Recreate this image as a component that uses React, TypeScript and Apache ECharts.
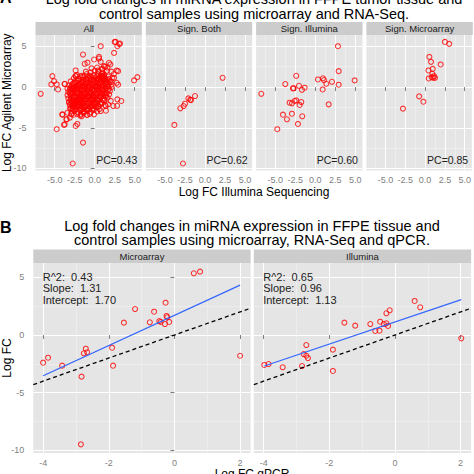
import { useEffect, useRef } from "react";
import * as echarts from "echarts";

const FONT = '"Liberation Sans", Arial, Helvetica, sans-serif';

type Pt = [number, number];

// ---------- Panel A: log fold changes, Illumina sequencing (x) vs Agilent microarray (y)
const titleA = [
  "Log fold changes in miRNA expression in FFPE tumor tissue and",
  "control samples using microarray and RNA-Seq.",
];
const facetsA = ["All", "Sign. Both", "Sign. Illumina", "Sign. Microarray"];
const pearsonA = ["0.43", "0.62", "0.60", "0.85"];

const aXRange: Pt = [-7.4, 5.9];
const aYRange: Pt = [-10.25, 6.4];
const aXTicks = [-5, -2.5, 0, 2.5, 5];
const aXMinor = [-6.25, -3.75, -1.25, 1.25, 3.75];
const aYTicks = [-10, -5, 0, 5];
const aYMinor = [-7.5, -2.5, 2.5];

const signBoth: Pt[] = [
  [2.2, 1.14], [-1.25, -1.1], [-1.75, -1.6], [-2.08, -1.39], [-1.85, -1.55],
  [-2.5, -2.04], [-2.67, -2.33], [-3.08, -2.61], [-3.83, -4.65], [-2.75, -9.39],
];

const signIllumina: Pt[] = [
  [2.83, 5.02], [2.92, 1.96], [4.92, 0.82], [0.33, 0.94], [0.96, 1.08], [1.08, 0.86],
  [2.08, 0.65], [2.92, 0.29], [1.38, 0.41], [0.92, -0.29], [1.67, -2.12], [-2.38, 1.39],
  [-3.75, 0.37], [-2.79, -0.16], [-2.71, -0.14], [-2.04, 0.16], [-1.33, -0.08], [-1.67, -0.33],
  [-6.75, -0.82], [-3.21, -1.92], [-2.92, -2.0], [-2.58, -1.71], [-2.38, -1.63], [-1.75, -1.84],
  [-1.96, -2.2], [-4.04, -3.39], [-3.54, -3.96], [-2.92, -3.27], [-1.63, -3.59], [-2.17, -4.53],
  [-4.75, -5.18],
];

const signMicroarray: Pt[] = [
  [2.5, 5.55], [3.04, 5.31], [0.54, 3.71], [0.75, 3.1], [1.96, 2.78], [0.96, 2.24],
  [0.42, 2.04], [0.92, 1.63], [1.13, 1.35], [1.04, 1.14], [1.25, 1.14], [0.46, 1.06],
  [0.83, 1.22], [-0.75, -1.14], [-0.21, -1.8], [-2.79, -2.65],
];

// miRNAs not significant on either platform
const notSignificant: Pt[] = [
  [-5.29, 1.35], [-5.08, 0.73], [-5.42, 0.33], [-4.75, 0.33], [-4.58, -0.29], [-3.75, 0.41],
  [-1.46, 4.0], [-1.25, 2.86], [0.75, 5.02], [2.62, 5.55], [3.17, 5.35], [2.42, 4.2],
  [1.79, 2.98], [2.75, 2.04], [-0.08, 3.39], [0.54, 3.51], [1.17, 2.57], [-2.38, 2.04],
  [-2.38, 1.35], [5.33, 1.22], [2.42, 1.14], [2.75, 0.53], [2.83, -1.51], [2.33, -2.33],
  [3.33, -1.71], [-0.08, -3.35], [-0.92, -3.43], [0.75, -2.94], [1.38, -2.33], [-4.04, -3.35],
  [-3.5, -3.96], [-3.75, -4.57], [-2.38, -4.78], [-2.92, -3.35], [-1.46, -6.82], [-0.9, 3.0],
  [1.6, 2.4], [2.1, 1.9], [2.4, 1.6], [2.0, -1.7], [1.4, -2.9], [2.8, -2.3],
  [-3.4, -3.15], [-3.1, -3.75], [-1.75, -3.35], [-1.33, -3.0],
  [-0.4, 2.3], [0.3, 2.4], [0.9, 2.2], [1.3, 2.5],
  [-1.1, 1.9], [-0.5, 1.8], [0.0, 2.0], [0.5, 1.9], [1.0, 1.8], [1.5, 2.0],
  [-2.2, 1.5], [-1.6, 1.4], [-1.0, 1.6], [-0.6, 1.4], [-0.1, 1.5], [0.4, 1.6], [0.8, 1.4], [1.2, 1.5], [1.7, 1.3],
  [-1.8, 1.3], [-1.3, 1.35], [-0.85, 1.3], [-0.4, 1.25], [0.3, 1.35], [0.7, 1.25], [1.0, 1.35],
  [-2.6, 1.1], [-2.0, 1.0], [-1.5, 1.2], [-1.1, 1.0], [-0.7, 1.1], [-0.3, 0.9], [0.1, 1.2], [0.5, 1.0],
  [0.9, 1.1], [1.3, 0.9], [1.8, 1.0],
  [-2.3, 0.9], [-1.9, 0.95], [-1.45, 0.9], [-0.95, 0.85], [-0.5, 1.0], [-0.1, 0.85], [0.35, 0.95],
  [0.75, 0.85], [1.15, 0.95], [1.55, 0.9],
  [-3.0, 0.7], [-2.5, 0.6], [-2.1, 0.8], [-1.7, 0.6], [-1.3, 0.7], [-0.9, 0.5], [-0.5, 0.8], [-0.1, 0.6],
  [0.3, 0.7], [0.7, 0.5], [1.1, 0.8], [1.5, 0.6], [1.9, 0.7],
  [-2.7, 0.45], [-2.3, 0.5], [-1.85, 0.45], [-1.45, 0.5], [-1.05, 0.6], [-0.6, 0.5], [-0.2, 0.45],
  [0.2, 0.5], [0.6, 0.55], [1.0, 0.45], [1.4, 0.5], [1.75, 0.45],
  [-3.2, 0.2], [-2.8, 0.3], [-2.3, 0.1], [-1.9, 0.3], [-1.5, 0.2], [-1.1, 0.4], [-0.7, 0.2], [-0.3, 0.3],
  [0.1, 0.1], [0.5, 0.3], [0.9, 0.2], [1.3, 0.4], [1.7, 0.1], [2.1, 0.3],
  [-2.9, 0.1], [-2.45, 0.05], [-2.05, 0.1], [-1.65, 0.05], [-1.2, 0.15], [-0.85, 0.05], [-0.4, 0.1],
  [0.0, 0.15], [0.4, 0.1], [0.8, 0.05], [1.2, 0.15], [1.55, 0.1],
  [-3.4, -0.2], [-3.0, -0.1], [-2.6, 0.0], [-2.2, -0.2], [-1.8, -0.1], [-1.4, -0.3], [-1.0, 0.0], [-0.6, -0.1],
  [-0.2, -0.2], [0.2, 0.0], [0.6, -0.1], [1.0, -0.3], [1.4, -0.1], [1.8, -0.2], [2.1, 0.0],
  [-3.1, -0.3], [-2.7, -0.25], [-2.3, -0.35], [-1.95, -0.3], [-1.55, -0.35], [-1.15, -0.25], [-0.75, -0.3],
  [-0.35, -0.35], [0.05, -0.3], [0.45, -0.25], [0.85, -0.35], [1.25, -0.3], [1.65, -0.35],
  [-3.3, -0.6], [-2.9, -0.5], [-2.5, -0.4], [-2.1, -0.6], [-1.7, -0.5], [-1.3, -0.7], [-0.9, -0.4], [-0.5, -0.6],
  [-0.1, -0.5], [0.3, -0.4], [0.7, -0.6], [1.1, -0.5], [1.5, -0.7], [1.9, -0.5],
  [-3.1, -0.75], [-2.75, -0.8], [-2.35, -0.7], [-1.95, -0.75], [-1.55, -0.8], [-1.15, -0.75], [-0.75, -0.7],
  [-0.35, -0.8], [0.05, -0.75], [0.45, -0.7], [0.85, -0.8], [1.25, -0.75],
  [-3.4, -1.0], [-3.0, -0.9], [-2.6, -1.1], [-2.2, -0.8], [-1.8, -1.0], [-1.4, -0.9], [-1.0, -1.1], [-0.6, -0.8],
  [-0.2, -1.0], [0.2, -0.9], [0.6, -1.1], [1.0, -0.8], [1.4, -1.0], [1.8, -0.9],
  [-3.0, -1.15], [-2.6, -1.2], [-2.2, -1.1], [-1.8, -1.2], [-1.4, -1.15], [-1.0, -1.25], [-0.6, -1.1],
  [-0.2, -1.2], [0.2, -1.15], [0.6, -1.2], [1.0, -1.1], [1.4, -1.2],
  [-3.3, -1.4], [-2.8, -1.3], [-2.4, -1.2], [-2.0, -1.4], [-1.6, -1.3], [-1.2, -1.5], [-0.8, -1.2], [-0.4, -1.4],
  [0.0, -1.3], [0.4, -1.5], [0.8, -1.2], [1.2, -1.4], [1.6, -1.3],
  [-3.0, -1.55], [-2.6, -1.5], [-2.2, -1.6], [-1.8, -1.5], [-1.4, -1.55], [-1.0, -1.45], [-0.6, -1.6],
  [-0.2, -1.5], [0.2, -1.55], [0.6, -1.5], [1.0, -1.6],
  [-3.2, -1.8], [-2.8, -1.7], [-2.4, -1.9], [-2.0, -1.6], [-1.6, -1.8], [-1.2, -1.7], [-0.8, -1.9], [-0.4, -1.6],
  [0.0, -1.8], [0.4, -1.7], [0.8, -1.9], [1.2, -1.6],
  [-2.9, -1.95], [-2.5, -2.0], [-2.1, -1.9], [-1.7, -2.0], [-1.3, -1.95], [-0.9, -2.05], [-0.5, -1.9],
  [-0.1, -2.0], [0.3, -1.95], [0.7, -2.05],
  [-3.1, -2.2], [-2.7, -2.1], [-2.3, -2.0], [-1.9, -2.2], [-1.5, -2.1], [-1.1, -2.3], [-0.7, -2.0], [-0.3, -2.2],
  [0.1, -2.1], [0.5, -2.3], [0.9, -2.0], [1.3, -2.2],
  [-2.8, -2.35], [-2.4, -2.3], [-2.0, -2.4], [-1.6, -2.35], [-1.2, -2.45], [-0.8, -2.3], [-0.4, -2.4],
  [0.0, -2.35], [0.4, -2.4],
  [-3.0, -2.6], [-2.6, -2.5], [-2.2, -2.4], [-1.8, -2.6], [-1.4, -2.5], [-1.0, -2.7], [-0.6, -2.4], [-0.2, -2.6],
  [0.2, -2.5], [0.6, -2.7],
  [-2.7, -2.75], [-2.3, -2.7], [-1.9, -2.8], [-1.5, -2.7], [-1.1, -2.8], [-0.7, -2.7], [-0.3, -2.75],
  [-2.9, -3.0], [-2.5, -2.9], [-2.1, -3.1], [-1.7, -2.8], [-1.3, -3.0], [-0.9, -2.9], [-0.5, -3.1], [-0.1, -2.8],
  [0.3, -3.0],
  [-2.6, -3.4], [-2.2, -3.3], [-1.8, -3.5], [-1.4, -3.2], [-1.0, -3.4], [-0.6, -3.3],
];

const allMirnas: Pt[] = [...notSignificant, ...signBoth, ...signIllumina, ...signMicroarray];
const facetDataA: Pt[][] = [allMirnas, signBoth, signIllumina, signMicroarray];

// ---------- Panel B: platform log FC against qPCR
const titleB = [
  "Log fold changes in miRNA expression in FFPE tissue and",
  "control samples using microarray, RNA-Seq and qPCR.",
];
const facetsB = ["Microarray", "Illumina"];

const bXRange: Pt = [-4.3, 2.32];
const bYRange: Pt = [-10.23, 6.24];
const bXTicks = [-4, -2, 0, 2];
const bXMinor = [-3, -1, 1];
const bYTicks = [-10, -5, 0, 5];
const bYMinor = [-7.5, -2.5, 2.5];

const microarrayVsQpcr: Pt[] = [
  [0.59, 5.35], [0.78, 5.49], [-1.2, 2.25], [-1.54, 1.07], [-0.62, 2.02], [-0.27, 2.8],
  [-0.75, 1.1], [-0.46, 1.21], [-0.42, 1.13], [-0.24, 1.65], [-0.22, 1.53], [-0.16, 1.13],
  [-0.29, 0.95], [-1.9, -1.1], [-2.7, -1.19], [-2.66, -1.5], [-2.76, -1.59], [-3.85, -1.97],
  [-4.0, -2.4], [-3.42, -2.66], [-2.83, -3.61], [-1.87, -2.66], [-2.85, -9.48], [2.0, -1.8],
];
const illuminaVsQpcr: Pt[] = [
  [0.6, 2.95], [0.77, 2.4], [-0.16, 2.14], [-0.26, 1.88], [-1.54, 1.07], [-1.21, 0.81],
  [-0.75, 0.95], [-0.45, 1.15], [-0.34, 0.95], [-0.26, 1.01], [-0.21, 0.78], [-0.6, 0.35],
  [-0.47, 0.37], [-2.7, -0.87], [-1.89, -1.27], [2.02, -0.29], [-2.78, -1.65], [-2.7, -1.8],
  [-2.65, -2.0], [-3.98, -2.6], [-3.85, -2.52], [-3.42, -2.8], [-2.83, -2.69], [-1.89, -3.12],
];
const facetDataB: Pt[][] = [microarrayVsQpcr, illuminaVsQpcr];

const fitR2 = ["0.43", "0.65"];
const fitSlope = [1.31, 0.96];
const fitIntercept = [1.7, 1.13];

// ---------- layout (pixels)
const A_LEFT = 35.5, A_STEP = 110.3, A_W = 106.4, A_TOP = 35, A_H = 135.5;
const B_LEFTS = [33.3, 253.8], B_W = 217.3, B_TOP = 263, B_H = 190;

const PANEL_BG = "#e5e5e5";
const STRIP_BG = "#cccccc";
const TICK_GREY = "#7f7f7f";

function text(x: number, y: number, s: string, size: number, extra: any = {}) {
  return {
    type: "text",
    x,
    y,
    z: 100,
    silent: true,
    rotation: extra.rotation ?? 0,
    style: {
      text: s,
      fontSize: size,
      fontFamily: FONT,
      fontWeight: extra.weight ?? "normal",
      fill: extra.fill ?? "#000",
      align: extra.align ?? "center",
      verticalAlign: "middle",
    },
  };
}

function majorAxis(grid: number, range: Pt, ticks: number[], showTicks: boolean, fmt: (v: number) => string, margin: number) {
  return {
    type: "value",
    gridIndex: grid,
    min: range[0],
    max: range[1],
    axisLine: { show: false },
    axisTick: { show: showTicks, customValues: ticks, length: 4, lineStyle: { color: TICK_GREY, width: 1 } },
    axisLabel: {
      show: showTicks,
      customValues: ticks,
      formatter: fmt,
      color: TICK_GREY,
      fontSize: 9,
      fontFamily: FONT,
      margin,
    },
    splitLine: { show: true, lineStyle: { color: "#ffffff", width: 1 } },
  };
}

function minorAxis(grid: number, range: Pt, ticks: number[]) {
  return {
    type: "value",
    gridIndex: grid,
    min: range[0],
    max: range[1],
    axisLine: { show: false },
    axisTick: { show: false, customValues: ticks },
    axisLabel: { show: false, customValues: ticks },
    splitLine: { show: true, lineStyle: { color: "#f2f2f2", width: 0.6 } },
  };
}

function buildOption() {
  const grid: any[] = [];
  const xAxis: any[] = [];
  const yAxis: any[] = [];
  const series: any[] = [];
  const graphic: any[] = [];

  const fmt1 = (v: number) => v.toFixed(1);
  const fmt0 = (v: number) => String(Math.round(v));

  const scatterStyle = {
    symbol: "circle",
    symbolSize: 5,
    itemStyle: { color: "rgba(0,0,0,0)", borderColor: "#ff0000", borderWidth: 1.05 },
    silent: true,
  };

  // Panel A facets
  facetsA.forEach((name, i) => {
    const left = A_LEFT + i * A_STEP;
    const g = grid.length;
    grid.push({ left, top: A_TOP, width: A_W, height: A_H, show: true, backgroundColor: PANEL_BG, borderWidth: 0 });
    xAxis.push(majorAxis(g, aXRange, aXTicks, true, fmt1, 5), minorAxis(g, aXRange, aXMinor));
    yAxis.push(majorAxis(g, aYRange, aYTicks, i === 0, fmt0, 9), minorAxis(g, aYRange, aYMinor));
    series.push({ type: "scatter", xAxisIndex: 2 * g, yAxisIndex: 2 * g, data: facetDataA[i], ...scatterStyle });

    graphic.push({ type: "rect", silent: true, shape: { x: left, y: 22, width: A_W, height: 13 }, style: { fill: STRIP_BG } });
    graphic.push(text(left + A_W / 2, 28.8, name, 9.5, { fill: "#1a1a1a" }));
    graphic.push(text(left + A_W - 4.6, 160, "PC=" + pearsonA[i], 10.5, { align: "right", fill: "#222" }));
  });

  // Panel B facets
  facetsB.forEach((name, i) => {
    const left = B_LEFTS[i];
    const g = grid.length;
    const pts = facetDataB[i];
    grid.push({ left, top: B_TOP, width: B_W, height: B_H, show: true, backgroundColor: PANEL_BG, borderWidth: 0 });
    xAxis.push(majorAxis(g, bXRange, bXTicks, true, fmt0, 5), minorAxis(g, bXRange, bXMinor));
    yAxis.push(majorAxis(g, bYRange, bYTicks, i === 0, fmt0, 9), minorAxis(g, bYRange, bYMinor));

    const xs = pts.map((p) => p[0]);
    const x0 = Math.min(...xs);
    const x1 = Math.max(...xs);
    const fit = (x: number) => fitIntercept[i] + fitSlope[i] * x;

    series.push({ type: "scatter", xAxisIndex: 2 * g, yAxisIndex: 2 * g, data: pts, ...scatterStyle });
    series.push({
      type: "line",
      xAxisIndex: 2 * g,
      yAxisIndex: 2 * g,
      data: [[x0, fit(x0)], [x1, fit(x1)]],
      symbol: "none",
      silent: true,
      lineStyle: { color: "#3366FF", width: 1.2 },
    });
    series.push({
      type: "line",
      xAxisIndex: 2 * g,
      yAxisIndex: 2 * g,
      data: [[bXRange[0], bXRange[0]], [bXRange[1], bXRange[1]]],
      symbol: "none",
      silent: true,
      lineStyle: { color: "#000000", width: 1.3, type: [4, 3] },
    });

    graphic.push({ type: "rect", silent: true, shape: { x: left, y: 249.5, width: B_W, height: 13.5 }, style: { fill: STRIP_BG } });
    graphic.push(text(left + B_W / 2, 256.3, name, 9.5, { fill: "#1a1a1a" }));
    const tx = left + 9.4;
    graphic.push(text(tx, 276.7, "R^2:  " + fitR2[i], 11, { align: "left", fill: "#222" }));
    graphic.push(text(tx, 288.4, "Slope:  " + fitSlope[i].toFixed(2), 11, { align: "left", fill: "#222" }));
    graphic.push(text(tx, 300.1, "Intercept:  " + fitIntercept[i].toFixed(2), 11, { align: "left", fill: "#222" }));
  });

  // titles, axis titles, panel letters
  graphic.push(text(254, -0.7, titleA[0], 14.5));
  graphic.push(text(254, 13.8, titleA[1], 14.5));
  graphic.push(text(252, 225.5, titleB[0], 14.5));
  graphic.push(text(252, 240, titleB[1], 14.5));
  graphic.push(text(254, 192, "Log FC Illumina Sequencing", 12));
  graphic.push(text(7, A_TOP + A_H / 2, "Log FC Agilent Microarray", 12, { rotation: Math.PI / 2 }));
  graphic.push(text(252, 473.5, "Log FC qPCR", 12));
  graphic.push(text(7, B_TOP + B_H / 2, "Log FC", 12, { rotation: Math.PI / 2 }));
  graphic.push(text(0, -2.4, "A", 16, { align: "left", weight: "bold" }));
  graphic.push(text(0, 227, "B", 16, { align: "left", weight: "bold" }));

  return {
    animation: false,
    backgroundColor: "#ffffff",
    grid,
    xAxis,
    yAxis,
    series,
    graphic,
  };
}

export default function App() {
  const ref = useRef<HTMLDivElement>(null);

  useEffect(() => {
    if (!ref.current) return;
    const chart = echarts.init(ref.current, null, { renderer: "svg" });
    chart.setOption(buildOption() as any);
    return () => chart.dispose();
  }, []);

  return <div ref={ref} style={{ position: "fixed", left: 0, top: 0, width: 474, height: 474 }} />;
}
